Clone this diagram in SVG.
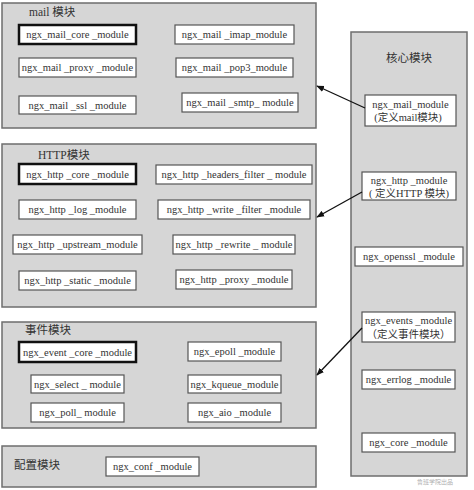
<svg xmlns="http://www.w3.org/2000/svg" width="474" height="490" viewBox="0 0 474 490">
<style>
.grp{fill:#d6d6d6;stroke:#6e6e6e;stroke-width:1.5}
.box{fill:#ffffff;stroke:#555;stroke-width:1.2}
.thick{fill:#ffffff;stroke:#111;stroke-width:2.5}
text{font-family:"Liberation Serif","Noto Sans CJK SC",serif;font-size:10.5px;fill:#333}
.t{text-anchor:middle}
.title{font-size:11.5px;fill:#333}
.con{stroke:#111;stroke-width:1.3;fill:none;marker-end:url(#ah)}
</style>
<defs>
<marker id="ah" viewBox="0 0 10 10" refX="9" refY="5" markerWidth="6" markerHeight="6" orient="auto">
<path d="M0,1 L10,5 L0,9 z" fill="#111"/>
</marker>
</defs>
<rect width="474" height="490" fill="#ffffff"/>

<g id="mail-group">
<rect class="grp" x="2" y="3" width="314" height="125"/>
<text class="title" x="29" y="16">mail 模块</text>
</g>
<g id="mail-core"><rect class="thick" x="19" y="25" width="117" height="19"/><text class="t" x="77.5" y="38">ngx_mail_core _module</text></g>
<g id="mail-imap"><rect class="box" x="175" y="25" width="119" height="19"/><text class="t" x="234.5" y="38">ngx_mail _imap_module</text></g>
<g id="mail-proxy"><rect class="box" x="19" y="58" width="117" height="19"/><text class="t" x="77.5" y="71">ngx_mail _proxy _module</text></g>
<g id="mail-pop3"><rect class="box" x="176" y="58" width="117" height="19"/><text class="t" x="234.5" y="71">ngx_mail _pop3_module</text></g>
<g id="mail-ssl"><rect class="box" x="19" y="96" width="117" height="18"/><text class="t" x="77.5" y="109">ngx_mail _ssl _module</text></g>
<g id="mail-smtp"><rect class="box" x="182" y="93" width="116" height="19"/><text class="t" x="240" y="106">ngx_mail _smtp_ module</text></g>

<g id="http-group">
<rect class="grp" x="2" y="144" width="314" height="163"/>
<text class="title" x="38" y="159">HTTP模块</text>
</g>
<g id="http-core"><rect class="thick" x="19" y="164" width="117" height="20"/><text class="t" x="77.5" y="177.5">ngx_http _core _module</text></g>
<g id="http-headers"><rect class="box" x="156" y="165" width="156" height="19"/><text class="t" x="234" y="178">ngx_http _headers_filter _ module</text></g>
<g id="http-log"><rect class="box" x="19" y="200" width="117" height="19"/><text class="t" x="77.5" y="213">ngx_http _log _module</text></g>
<g id="http-write"><rect class="box" x="158" y="200" width="152" height="19"/><text class="t" x="234" y="213">ngx_http _write _filter _module</text></g>
<g id="http-upstream"><rect class="box" x="13" y="235" width="129" height="19"/><text class="t" x="77.5" y="248">ngx_http _upstream_module</text></g>
<g id="http-rewrite"><rect class="box" x="173" y="235" width="122" height="19"/><text class="t" x="234" y="248">ngx_http _rewrite _ module</text></g>
<g id="http-static"><rect class="box" x="19" y="271" width="117" height="19"/><text class="t" x="77.5" y="284">ngx_http _static  _module</text></g>
<g id="http-proxy"><rect class="box" x="176" y="270" width="116" height="19"/><text class="t" x="234" y="283">ngx_http _proxy _module</text></g>

<g id="event-group">
<rect class="grp" x="2" y="322" width="314" height="106"/>
<text class="title" x="25" y="334">事件模块</text>
</g>
<g id="event-core"><rect class="thick" x="19" y="342" width="117" height="20"/><text class="t" x="77.5" y="355.5">ngx_event _core _module</text></g>
<g id="event-epoll"><rect class="box" x="188" y="342" width="93" height="19"/><text class="t" x="234.5" y="355">ngx_epoll _module</text></g>
<g id="event-select"><rect class="box" x="31" y="375" width="93" height="18"/><text class="t" x="77.5" y="388">ngx_select _ module</text></g>
<g id="event-kqueue"><rect class="box" x="188" y="375" width="93" height="18"/><text class="t" x="234.5" y="388">ngx_kqueue_module</text></g>
<g id="event-poll"><rect class="box" x="31" y="403" width="93" height="19"/><text class="t" x="77.5" y="416">ngx_poll_ module</text></g>
<g id="event-aio"><rect class="box" x="188" y="403" width="93" height="19"/><text class="t" x="234.5" y="416">ngx_aio _module</text></g>

<g id="conf-group">
<rect class="grp" x="2" y="446" width="314" height="41"/>
<text class="title" x="14" y="469">配置模块</text>
</g>
<g id="conf-module"><rect class="box" x="106" y="457" width="93" height="19"/><text class="t" x="152.5" y="470">ngx_conf _module</text></g>

<g id="core-group">
<rect class="grp" x="351" y="32" width="116" height="444"/>
<text class="title t" x="409" y="62">核心模块</text>
</g>
<g id="core-mail"><rect class="box" x="365" y="95" width="91" height="31"/><text class="t" x="410.5" y="108">ngx_mail_module</text><text class="t" x="408" y="121">(定义mail模块)</text></g>
<g id="core-http"><rect class="box" x="362" y="172" width="94" height="28"/><text class="t" x="409" y="184">ngx_http _module</text><text class="t" x="409" y="197">( 定义HTTP 模块)</text></g>
<g id="core-openssl"><rect class="box" x="355" y="247" width="108" height="19"/><text class="t" x="409" y="260">ngx_openssl _module</text></g>
<g id="core-events"><rect class="box" x="362" y="312" width="93" height="30"/><text class="t" x="408.5" y="324">ngx_events _module</text><text class="t" x="408.5" y="338">（定义事件模块）</text></g>
<g id="core-errlog"><rect class="box" x="362" y="370" width="93" height="19"/><text class="t" x="408.5" y="383">ngx_errlog  _module</text></g>
<g id="core-core"><rect class="box" x="362" y="433" width="93" height="19"/><text class="t" x="408.5" y="446">ngx_core _module</text></g>

<g id="connectors">
<line class="con" x1="365" y1="108" x2="317" y2="86"/>
<line class="con" x1="362" y1="192" x2="317" y2="217"/>
<line class="con" x1="362" y1="328" x2="317" y2="375"/>
</g>
<text x="435" y="484" class="t" style="font-size:6px;fill:#b0b0b0">鲁班学院出品</text>
</svg>
